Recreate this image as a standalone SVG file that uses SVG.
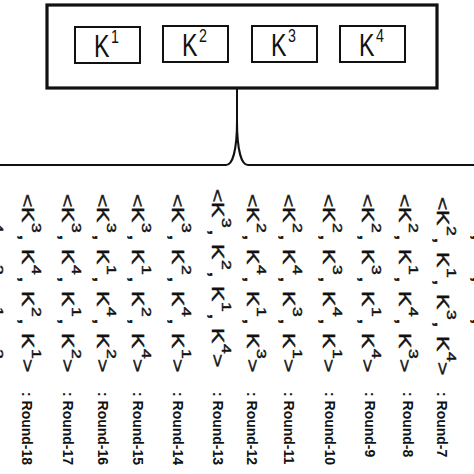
<svg xmlns="http://www.w3.org/2000/svg" width="474" height="474" viewBox="0 0 474 474">
<style>
  .box{fill:#fff;stroke:#111;}
  .outer{stroke-width:3.2;}
  .inner{stroke-width:2;}
  .kt{font-family:"Liberation Sans",Arial,sans-serif;font-size:31px;fill:#111;}
  .kt .s{font-size:19px;}
  .ct{font-family:"Liberation Sans",Arial,sans-serif;font-size:17px;fill:#111;stroke:#111;stroke-width:0.45;}
  .ct .s{font-size:13px;}
  .ct .c{font-size:19px;}
  .lb{font-family:"Liberation Sans",Arial,sans-serif;font-size:14px;font-weight:bold;fill:#111;}
  .conn{fill:none;stroke:#111;stroke-width:2;}
</style>
<rect width="474" height="474" fill="#fff"/>
<g id="keyset">
  <rect class="box outer" x="47" y="5" width="390" height="83"/>
  <g id="k1"><rect class="box inner" x="75" y="27" width="65" height="36"/>
    <text class="kt" transform="translate(94,57) scale(0.75,1)">K<tspan class="s" dx="2" dy="-14">1</tspan></text></g>
  <g id="k2"><rect class="box inner" x="163" y="26" width="65" height="36"/>
    <text class="kt" transform="translate(182,56) scale(0.75,1)">K<tspan class="s" dx="2" dy="-14">2</tspan></text></g>
  <g id="k3"><rect class="box inner" x="252" y="26" width="65" height="36"/>
    <text class="kt" transform="translate(271,56) scale(0.75,1)">K<tspan class="s" dx="2" dy="-14">3</tspan></text></g>
  <g id="k4"><rect class="box inner" x="340" y="26" width="65" height="36"/>
    <text class="kt" transform="translate(359,56) scale(0.75,1)">K<tspan class="s" dx="2" dy="-14">4</tspan></text></g>
</g>
<g id="connectors">
  <path class="conn" d="M237,88 V120 C237,152 232,165 226,165 H0"/>
  <path class="conn" d="M237,120 C237,152 242,165 248,165 H474"/>
</g>
<g id="rounds">
  <g id="r19" transform="translate(-16,0) rotate(90) scale(1.35,1)"><text class="ct"><tspan x="143.7" y="0">&lt;</tspan><tspan x="153.3" y="0">K</tspan><tspan class="s" x="165.2" y="-10">4</tspan><tspan class="c" x="173.3" y="2">,</tspan><tspan x="184.4" y="0">K</tspan><tspan class="s" x="196.3" y="-10">3</tspan><tspan class="c" x="204.4" y="2">,</tspan><tspan x="215.6" y="0">K</tspan><tspan class="s" x="227.4" y="-10">1</tspan><tspan class="c" x="235.6" y="2">,</tspan><tspan x="246.7" y="0">K</tspan><tspan class="s" x="258.5" y="-10">2</tspan><tspan x="265.9" y="0">&gt;</tspan></text></g>

  <g id="r18"><g transform="translate(22,0) rotate(90) scale(1.35,1)"><text class="ct"><tspan x="143.7" y="0">&lt;</tspan><tspan x="153.3" y="0">K</tspan><tspan class="s" x="165.2" y="-10">3</tspan><tspan class="c" x="173.3" y="2">,</tspan><tspan x="184.4" y="0">K</tspan><tspan class="s" x="196.3" y="-10">4</tspan><tspan class="c" x="204.4" y="2">,</tspan><tspan x="215.6" y="0">K</tspan><tspan class="s" x="227.4" y="-10">2</tspan><tspan class="c" x="235.6" y="2">,</tspan><tspan x="246.7" y="0">K</tspan><tspan class="s" x="258.5" y="-10">1</tspan><tspan x="265.9" y="0">&gt;</tspan></text></g>
    <text class="lb" transform="translate(22,392) rotate(90)">: Round-18</text></g>

  <g id="r17"><g transform="translate(62,0) rotate(90) scale(1.35,1)"><text class="ct"><tspan x="143.7" y="0">&lt;</tspan><tspan x="153.3" y="0">K</tspan><tspan class="s" x="165.2" y="-10">3</tspan><tspan class="c" x="173.3" y="2">,</tspan><tspan x="184.4" y="0">K</tspan><tspan class="s" x="196.3" y="-10">4</tspan><tspan class="c" x="204.4" y="2">,</tspan><tspan x="215.6" y="0">K</tspan><tspan class="s" x="227.4" y="-10">1</tspan><tspan class="c" x="235.6" y="2">,</tspan><tspan x="246.7" y="0">K</tspan><tspan class="s" x="258.5" y="-10">2</tspan><tspan x="265.9" y="0">&gt;</tspan></text></g>
    <text class="lb" transform="translate(63,392) rotate(90)">: Round-17</text></g>

  <g id="r16"><g transform="translate(97,0) rotate(90) scale(1.35,1)"><text class="ct"><tspan x="143.7" y="0">&lt;</tspan><tspan x="153.3" y="0">K</tspan><tspan class="s" x="165.2" y="-10">3</tspan><tspan class="c" x="173.3" y="2">,</tspan><tspan x="184.4" y="0">K</tspan><tspan class="s" x="196.3" y="-10">1</tspan><tspan class="c" x="204.4" y="2">,</tspan><tspan x="215.6" y="0">K</tspan><tspan class="s" x="227.4" y="-10">4</tspan><tspan class="c" x="235.6" y="2">,</tspan><tspan x="246.7" y="0">K</tspan><tspan class="s" x="258.5" y="-10">2</tspan><tspan x="265.9" y="0">&gt;</tspan></text></g>
    <text class="lb" transform="translate(98,392) rotate(90)">: Round-16</text></g>

  <g id="r15"><g transform="translate(132,0) rotate(90) scale(1.35,1)"><text class="ct"><tspan x="143.7" y="0">&lt;</tspan><tspan x="153.3" y="0">K</tspan><tspan class="s" x="165.2" y="-10">3</tspan><tspan class="c" x="173.3" y="2">,</tspan><tspan x="184.4" y="0">K</tspan><tspan class="s" x="196.3" y="-10">1</tspan><tspan class="c" x="204.4" y="2">,</tspan><tspan x="215.6" y="0">K</tspan><tspan class="s" x="227.4" y="-10">2</tspan><tspan class="c" x="235.6" y="2">,</tspan><tspan x="246.7" y="0">K</tspan><tspan class="s" x="258.5" y="-10">4</tspan><tspan x="265.9" y="0">&gt;</tspan></text></g>
    <text class="lb" transform="translate(133,392) rotate(90)">: Round-15</text></g>

  <g id="r14"><g transform="translate(172,0) rotate(90) scale(1.35,1)"><text class="ct"><tspan x="143.7" y="0">&lt;</tspan><tspan x="153.3" y="0">K</tspan><tspan class="s" x="165.2" y="-10">3</tspan><tspan class="c" x="173.3" y="2">,</tspan><tspan x="184.4" y="0">K</tspan><tspan class="s" x="196.3" y="-10">2</tspan><tspan class="c" x="204.4" y="2">,</tspan><tspan x="215.6" y="0">K</tspan><tspan class="s" x="227.4" y="-10">4</tspan><tspan class="c" x="235.6" y="2">,</tspan><tspan x="246.7" y="0">K</tspan><tspan class="s" x="258.5" y="-10">1</tspan><tspan x="265.9" y="0">&gt;</tspan></text></g>
    <text class="lb" transform="translate(173,392) rotate(90)">: Round-14</text></g>

  <g id="r13"><g transform="translate(212,-5) rotate(90) scale(1.35,1)"><text class="ct"><tspan x="143.7" y="0">&lt;</tspan><tspan x="153.3" y="0">K</tspan><tspan class="s" x="165.2" y="-10">3</tspan><tspan class="c" x="173.3" y="2">,</tspan><tspan x="184.4" y="0">K</tspan><tspan class="s" x="196.3" y="-10">2</tspan><tspan class="c" x="204.4" y="2">,</tspan><tspan x="215.6" y="0">K</tspan><tspan class="s" x="227.4" y="-10">1</tspan><tspan class="c" x="235.6" y="2">,</tspan><tspan x="246.7" y="0">K</tspan><tspan class="s" x="258.5" y="-10">4</tspan><tspan x="265.9" y="0">&gt;</tspan></text></g>
    <text class="lb" transform="translate(213,392) rotate(90)">: Round-13</text></g>

  <g id="r12"><g transform="translate(247,0) rotate(90) scale(1.35,1)"><text class="ct"><tspan x="143.7" y="0">&lt;</tspan><tspan x="153.3" y="0">K</tspan><tspan class="s" x="165.2" y="-10">2</tspan><tspan class="c" x="173.3" y="2">,</tspan><tspan x="184.4" y="0">K</tspan><tspan class="s" x="196.3" y="-10">4</tspan><tspan class="c" x="204.4" y="2">,</tspan><tspan x="215.6" y="0">K</tspan><tspan class="s" x="227.4" y="-10">1</tspan><tspan class="c" x="235.6" y="2">,</tspan><tspan x="246.7" y="0">K</tspan><tspan class="s" x="258.5" y="-10">3</tspan><tspan x="265.9" y="0">&gt;</tspan></text></g>
    <text class="lb" transform="translate(247,392) rotate(90)">: Round-12</text></g>

  <g id="r11"><g transform="translate(283,0) rotate(90) scale(1.35,1)"><text class="ct"><tspan x="143.7" y="0">&lt;</tspan><tspan x="153.3" y="0">K</tspan><tspan class="s" x="165.2" y="-10">2</tspan><tspan class="c" x="173.3" y="2">,</tspan><tspan x="184.4" y="0">K</tspan><tspan class="s" x="196.3" y="-10">4</tspan><tspan class="c" x="204.4" y="2">,</tspan><tspan x="215.6" y="0">K</tspan><tspan class="s" x="227.4" y="-10">3</tspan><tspan class="c" x="235.6" y="2">,</tspan><tspan x="246.7" y="0">K</tspan><tspan class="s" x="258.5" y="-10">1</tspan><tspan x="265.9" y="0">&gt;</tspan></text></g>
    <text class="lb" transform="translate(284,392) rotate(90)">: Round-11</text></g>

  <g id="r10"><g transform="translate(323,0) rotate(90) scale(1.35,1)"><text class="ct"><tspan x="143.7" y="0">&lt;</tspan><tspan x="153.3" y="0">K</tspan><tspan class="s" x="165.2" y="-10">2</tspan><tspan class="c" x="173.3" y="2">,</tspan><tspan x="184.4" y="0">K</tspan><tspan class="s" x="196.3" y="-10">3</tspan><tspan class="c" x="204.4" y="2">,</tspan><tspan x="215.6" y="0">K</tspan><tspan class="s" x="227.4" y="-10">4</tspan><tspan class="c" x="235.6" y="2">,</tspan><tspan x="246.7" y="0">K</tspan><tspan class="s" x="258.5" y="-10">1</tspan><tspan x="265.9" y="0">&gt;</tspan></text></g>
    <text class="lb" transform="translate(325,392) rotate(90)">: Round-10</text></g>

  <g id="r9"><g transform="translate(362,0) rotate(90) scale(1.35,1)"><text class="ct"><tspan x="143.7" y="0">&lt;</tspan><tspan x="153.3" y="0">K</tspan><tspan class="s" x="165.2" y="-10">2</tspan><tspan class="c" x="173.3" y="2">,</tspan><tspan x="184.4" y="0">K</tspan><tspan class="s" x="196.3" y="-10">3</tspan><tspan class="c" x="204.4" y="2">,</tspan><tspan x="215.6" y="0">K</tspan><tspan class="s" x="227.4" y="-10">1</tspan><tspan class="c" x="235.6" y="2">,</tspan><tspan x="246.7" y="0">K</tspan><tspan class="s" x="258.5" y="-10">4</tspan><tspan x="265.9" y="0">&gt;</tspan></text></g>
    <text class="lb" transform="translate(365,392) rotate(90)">: Round-9</text></g>

  <g id="r8"><g transform="translate(399,0) rotate(90) scale(1.35,1)"><text class="ct"><tspan x="143.7" y="0">&lt;</tspan><tspan x="153.3" y="0">K</tspan><tspan class="s" x="165.2" y="-10">2</tspan><tspan class="c" x="173.3" y="2">,</tspan><tspan x="184.4" y="0">K</tspan><tspan class="s" x="196.3" y="-10">1</tspan><tspan class="c" x="204.4" y="2">,</tspan><tspan x="215.6" y="0">K</tspan><tspan class="s" x="227.4" y="-10">4</tspan><tspan class="c" x="235.6" y="2">,</tspan><tspan x="246.7" y="0">K</tspan><tspan class="s" x="258.5" y="-10">3</tspan><tspan x="265.9" y="0">&gt;</tspan></text></g>
    <text class="lb" transform="translate(403,392) rotate(90)">: Round-8</text></g>

  <g id="r7"><g transform="translate(437,3) rotate(90) scale(1.35,1)"><text class="ct"><tspan x="143.7" y="0">&lt;</tspan><tspan x="153.3" y="0">K</tspan><tspan class="s" x="165.2" y="-10">2</tspan><tspan class="c" x="173.3" y="2">,</tspan><tspan x="184.4" y="0">K</tspan><tspan class="s" x="196.3" y="-10">1</tspan><tspan class="c" x="204.4" y="2">,</tspan><tspan x="215.6" y="0">K</tspan><tspan class="s" x="227.4" y="-10">3</tspan><tspan class="c" x="235.6" y="2">,</tspan><tspan x="246.7" y="0">K</tspan><tspan class="s" x="258.5" y="-10">4</tspan><tspan x="265.9" y="0">&gt;</tspan></text></g>
    <text class="lb" transform="translate(437,392) rotate(90)">: Round-7</text></g>

  <g id="r6" transform="translate(475,0) rotate(90) scale(1.35,1)"><text class="ct"><tspan x="143.7" y="0">&lt;</tspan><tspan x="153.3" y="0">K</tspan><tspan class="s" x="165.2" y="-10">1</tspan><tspan class="c" x="173.3" y="2">,</tspan><tspan x="184.4" y="0">K</tspan><tspan class="s" x="196.3" y="-10">4</tspan><tspan class="c" x="204.4" y="2">,</tspan><tspan x="215.6" y="0">K</tspan><tspan class="s" x="227.4" y="-10">3</tspan><tspan class="c" x="235.6" y="2">,</tspan><tspan x="246.7" y="0">K</tspan><tspan class="s" x="258.5" y="-10">2</tspan><tspan x="265.9" y="0">&gt;</tspan></text></g>
</g>
</svg>
